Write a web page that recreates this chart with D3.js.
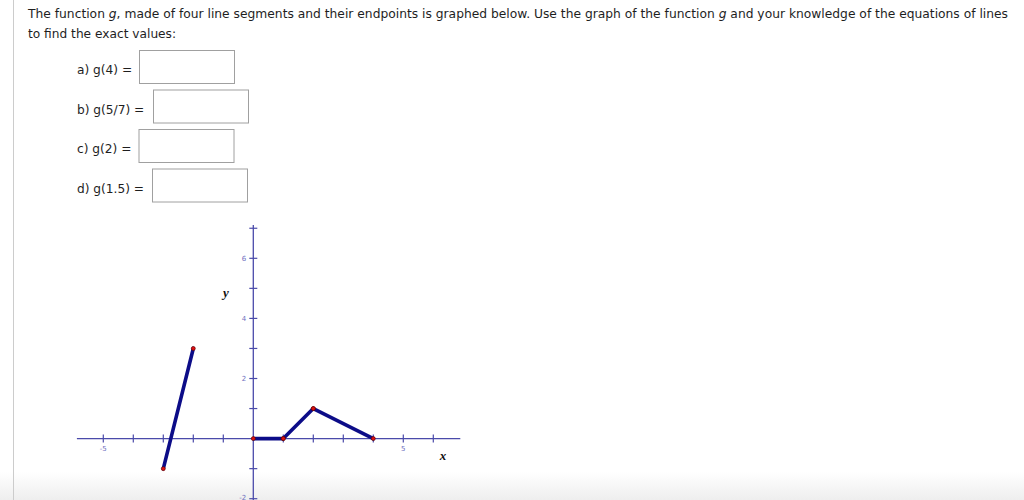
<!DOCTYPE html>
<head>
<style>
  body { margin: 0; background: #fff; }
  svg text { font-family: "DejaVu Sans", Verdana, sans-serif; }
</style>
</head>

<body>
    <svg id="container" height="500" width="1024"></svg>
</body>

<script src="https://d3js.org/d3.v7.min.js"></script>
<script>

    // segment endpoints of g
    let segX1 = [-3, 0, 1, 2]
    let segY1 = [-1, 0, 0, 1]
    let segX2 = [-2, 1, 2, 4]
    let segY2 = [3, 0, 1, 0]

    let xTicks = [-5, -4, -3, -2, -1, 1, 2, 3, 4, 5, 6]
    let yTicks = [-2, -1, 1, 2, 3, 4, 5, 6, 7]
    let xTickLabels = [-5, 5]
    let yTickLabels = [-2, 2, 4, 6]

    let questions = ["a) g(4) =", "b) g(5/7) =", "c) g(2) =", "d) g(1.5) ="]

    let svg = d3.select("#container")

    // page background bits
    let grad = svg.append("defs").append("linearGradient")
        .attr("id", "fade").attr("x1", 0).attr("y1", 0).attr("x2", 0).attr("y2", 1)
    grad.append("stop").attr("offset", "0%").attr("stop-color", "#ffffff")
    grad.append("stop").attr("offset", "100%").attr("stop-color", "#eeeeee")
    svg.append("rect").attr("x", 0).attr("y", 472).attr("width", 1024).attr("height", 28)
        .attr("fill", "url(#fade)")
    svg.append("line").attr("x1", 13.5).attr("x2", 13.5).attr("y1", 0).attr("y2", 500)
        .attr("stroke", "#cccccc").attr("stroke-width", 1)

    // question text
    let fs = 12.2
    let title = svg.append("text").attr("x", 28).attr("y", 18).attr("font-size", fs).attr("fill", "#1e1e1e")
        .attr("textLength", 980).attr("lengthAdjust", "spacingAndGlyphs")
    title.append("tspan").text("The function ")
    title.append("tspan").attr("font-style", "italic").text("g")
    title.append("tspan").text(", made of four line segments and their endpoints is graphed below. Use the graph of the function ")
    title.append("tspan").attr("font-style", "italic").text("g")
    title.append("tspan").text(" and your knowledge of the equations of lines")
    svg.append("text").attr("x", 28).attr("y", 38).attr("font-size", fs).attr("fill", "#1e1e1e")
        .text("to find the exact values:")

    let boxX = [139, 153, 138.5, 152]
    questions.forEach((q, i) => {
        let top = 50 + i * 39.5
        svg.append("text").attr("x", 77).attr("y", top + 24).attr("font-size", fs).attr("fill", "#1e1e1e").text(q)
        svg.append("rect").attr("x", boxX[i] + 0.5).attr("y", top + 0.5).attr("width", 95).attr("height", 33)
            .attr("fill", "#fff").attr("stroke", "#a0a0a0")
    })

    // graph
    let x = d3.scaleLinear().domain([-5, 5]).range([103.3, 403.3])
    let y = d3.scaleLinear().domain([-2, 6]).range([498.7, 258.3])
    let axisColor = "#4a4aaa"
    let labelColor = "#6f6fc0"

    let g = svg.append("g")

    g.append("line").attr("x1", x(-5.88)).attr("x2", x(6.9)).attr("y1", y(0)).attr("y2", y(0))
        .attr("stroke", axisColor).attr("stroke-width", 1.3)
    g.append("line").attr("x1", x(0)).attr("x2", x(0)).attr("y1", y(7.11)).attr("y2", 500)
        .attr("stroke", axisColor).attr("stroke-width", 1.3)

    g.selectAll(".xt").data(xTicks).enter().append("line")
        .attr("x1", d => x(d)).attr("x2", d => x(d))
        .attr("y1", y(0) - 4).attr("y2", y(0) + 4)
        .attr("stroke", axisColor).attr("stroke-width", 1.2)
    g.selectAll(".yt").data(yTicks).enter().append("line")
        .attr("x1", x(0) - 4).attr("x2", x(0) + 4)
        .attr("y1", d => y(d)).attr("y2", d => y(d))
        .attr("stroke", axisColor).attr("stroke-width", 1.2)

    g.selectAll(".xl").data(xTickLabels).enter().append("text")
        .attr("x", d => x(d)).attr("y", y(0) + 12)
        .attr("text-anchor", "middle").attr("font-size", 7).attr("fill", labelColor)
        .text(d => d)
    // bottom label sits right at the page edge, as in the original
    g.selectAll(".yl").data(yTickLabels).enter().append("text")
        .attr("x", x(0) - 7).attr("y", d => Math.min(y(d) + 2.5, 499.5))
        .attr("text-anchor", "end").attr("font-size", 7).attr("fill", labelColor)
        .text(d => d)

    g.append("text").attr("x", 226).attr("y", 297).attr("text-anchor", "middle")
        .style("font-family", "'Liberation Serif', serif")
        .attr("font-style", "italic").attr("font-weight", "bold").attr("font-size", 13).attr("fill", "#111")
        .text("y")
    g.append("text").attr("x", 443).attr("y", 460).attr("text-anchor", "middle")
        .style("font-family", "'Liberation Serif', serif")
        .attr("font-style", "italic").attr("font-weight", "bold").attr("font-size", 13).attr("fill", "#111")
        .text("x")

    let segs = segX1.map((d, i) => ({x1: d, y1: segY1[i], x2: segX2[i], y2: segY2[i]}))
    g.selectAll(".seg").data(segs).enter().append("line")
        .attr("x1", d => x(d.x1)).attr("y1", d => y(d.y1))
        .attr("x2", d => x(d.x2)).attr("y2", d => y(d.y2))
        .attr("stroke", "#0c0c88").attr("stroke-width", 3.6).attr("stroke-linecap", "round")

    let pts = []
    segs.forEach(d => { pts.push([d.x1, d.y1]); pts.push([d.x2, d.y2]) })
    g.selectAll(".pt").data(pts).enter().append("circle")
        .attr("cx", d => x(d[0])).attr("cy", d => y(d[1])).attr("r", 2)
        .attr("fill", "#dd1111").attr("stroke", "#550000").attr("stroke-width", 0.6)

</script>
